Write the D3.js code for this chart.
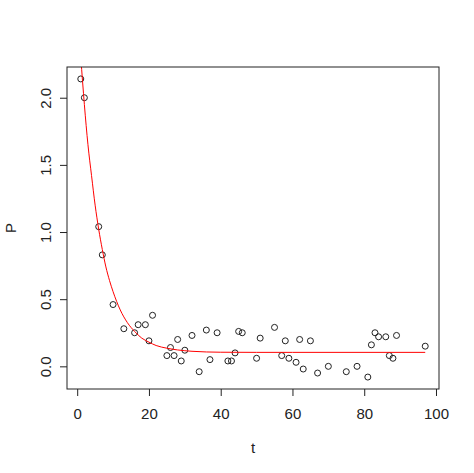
<!DOCTYPE html>
<html>
<head>
<meta charset="utf-8">
<script src="https://cdn.jsdelivr.net/npm/d3@7"></script>
<style>
  body { margin: 0; background: #fff; }
  text { font-family: "Liberation Sans", Arial, sans-serif; }
</style>
</head>
<body>
<div class="chart"></div>
<script>
var tValues = [1, 2, 6, 7, 10, 13, 16, 17, 19, 20, 21, 25, 26, 27, 28, 29, 30, 32, 34, 36,
  37, 39, 42, 43, 44, 45, 46, 50, 51, 55, 57, 58, 59, 61, 62, 63, 65, 67, 70, 75,
  78, 81, 82, 83, 84, 86, 87, 88, 89, 97];
var pValues = [2.14, 2.00, 1.04, 0.83, 0.46, 0.28, 0.25, 0.31, 0.31, 0.19, 0.38, 0.08, 0.14, 0.08, 0.20, 0.04, 0.12, 0.23, -0.04, 0.27,
  0.05, 0.25, 0.04, 0.04, 0.10, 0.26, 0.25, 0.06, 0.21, 0.29, 0.08, 0.19, 0.06, 0.03, 0.20, -0.02, 0.19, -0.05, 0.00, -0.04,
  0.00, -0.08, 0.16, 0.25, 0.22, 0.22, 0.08, 0.06, 0.23, 0.15];

// fitted curve (red line), read at selected t
var fitT = [1, 2, 3, 4, 5, 6, 7, 8, 9, 10, 12, 14, 16, 18, 20, 22, 25, 28, 32, 36, 40, 50, 60, 97];
var fitP = [2.30, 1.95, 1.65, 1.42, 1.20, 1.02, 0.87, 0.74, 0.64, 0.556, 0.42, 0.325, 0.26, 0.21, 0.18, 0.155, 0.135, 0.122, 0.112, 0.107, 0.105, 0.104, 0.104, 0.104];

var xTicks = [0, 20, 40, 60, 80, 100];
var yTicks = [0.0, 0.5, 1.0, 1.5, 2.0];

var svgWidth = 474;
var svgHeight = 473;

var margin = { top: 67, right: 35, bottom: 84, left: 67 };

var chartWidth = svgWidth - margin.left - margin.right;
var chartHeight = svgHeight - margin.top - margin.bottom;

var svg = d3.select(".chart")
  .append("svg")
  .attr("width", svgWidth)
  .attr("height", svgHeight);

var chartGroup = svg.append("g")
  .attr("transform", `translate(${margin.left}, ${margin.top})`);

// R style: pad range by 4%
function padded(vals) {
  var ext = d3.extent(vals);
  var r = ext[1] - ext[0];
  return [ext[0] - 0.04 * r, ext[1] + 0.04 * r];
}

var xScale = d3.scaleLinear()
  .domain(padded(tValues))
  .range([0, chartWidth]);

var yScale = d3.scaleLinear()
  .domain(padded(pValues))
  .range([chartHeight, 0]);

// axes
var bottomAxis = d3.axisBottom(xScale).tickValues(xTicks).tickSize(7).tickSizeOuter(0);
var leftAxis = d3.axisLeft(yScale).tickValues(yTicks).tickFormat(d3.format(".1f")).tickSize(7).tickSizeOuter(0);

var xAxisG = chartGroup.append("g")
  .attr("transform", `translate(0, ${chartHeight})`)
  .call(bottomAxis);
xAxisG.select(".domain").remove();
xAxisG.selectAll(".tick line").attr("stroke", "#222");
xAxisG.selectAll(".tick text")
  .attr("y", 25)
  .attr("dy", "0.35em")
  .attr("fill", "#222")
  .style("font-size", "15px");

var yAxisG = chartGroup.append("g")
  .call(leftAxis);
yAxisG.select(".domain").remove();
yAxisG.selectAll(".tick line").attr("stroke", "#222");
yAxisG.selectAll(".tick text")
  .attr("x", null)
  .attr("dy", null)
  .attr("text-anchor", "middle")
  .attr("dominant-baseline", "central")
  .attr("transform", "translate(-22,0) rotate(-90)")
  .attr("fill", "#222")
  .style("font-size", "15px");

// axis titles
svg.append("text")
  .attr("x", margin.left + chartWidth / 2)
  .attr("y", 447)
  .attr("text-anchor", "middle")
  .attr("dominant-baseline", "central")
  .attr("fill", "#222")
  .style("font-size", "15px")
  .text("t");

svg.append("text")
  .attr("transform", `translate(10, ${margin.top + chartHeight / 2}) rotate(-90)`)
  .attr("text-anchor", "middle")
  .attr("dominant-baseline", "central")
  .attr("fill", "#222")
  .style("font-size", "15px")
  .text("P");

// clip for the fitted line
chartGroup.append("clipPath")
  .attr("id", "plotClip")
  .append("rect")
  .attr("width", chartWidth)
  .attr("height", chartHeight);

// points
chartGroup.selectAll("circle.obs")
  .data(tValues)
  .enter()
  .append("circle")
  .attr("class", "obs")
  .attr("cx", d => xScale(d))
  .attr("cy", (d, i) => yScale(pValues[i]))
  .attr("r", 3)
  .attr("fill", "none")
  .attr("stroke", "#222")
  .attr("stroke-width", 1);

// fitted curve
var line = d3.line()
  .x(d => xScale(d))
  .y((d, i) => yScale(fitP[i]))
  .curve(d3.curveMonotoneX);

chartGroup.append("path")
  .attr("d", line(fitT))
  .attr("clip-path", "url(#plotClip)")
  .attr("fill", "none")
  .attr("stroke", "red")
  .attr("stroke-width", 1);

// box
chartGroup.append("rect")
  .attr("width", chartWidth)
  .attr("height", chartHeight)
  .attr("fill", "none")
  .attr("stroke", "#222")
  .attr("stroke-width", 1);
</script>
</body>
</html>
